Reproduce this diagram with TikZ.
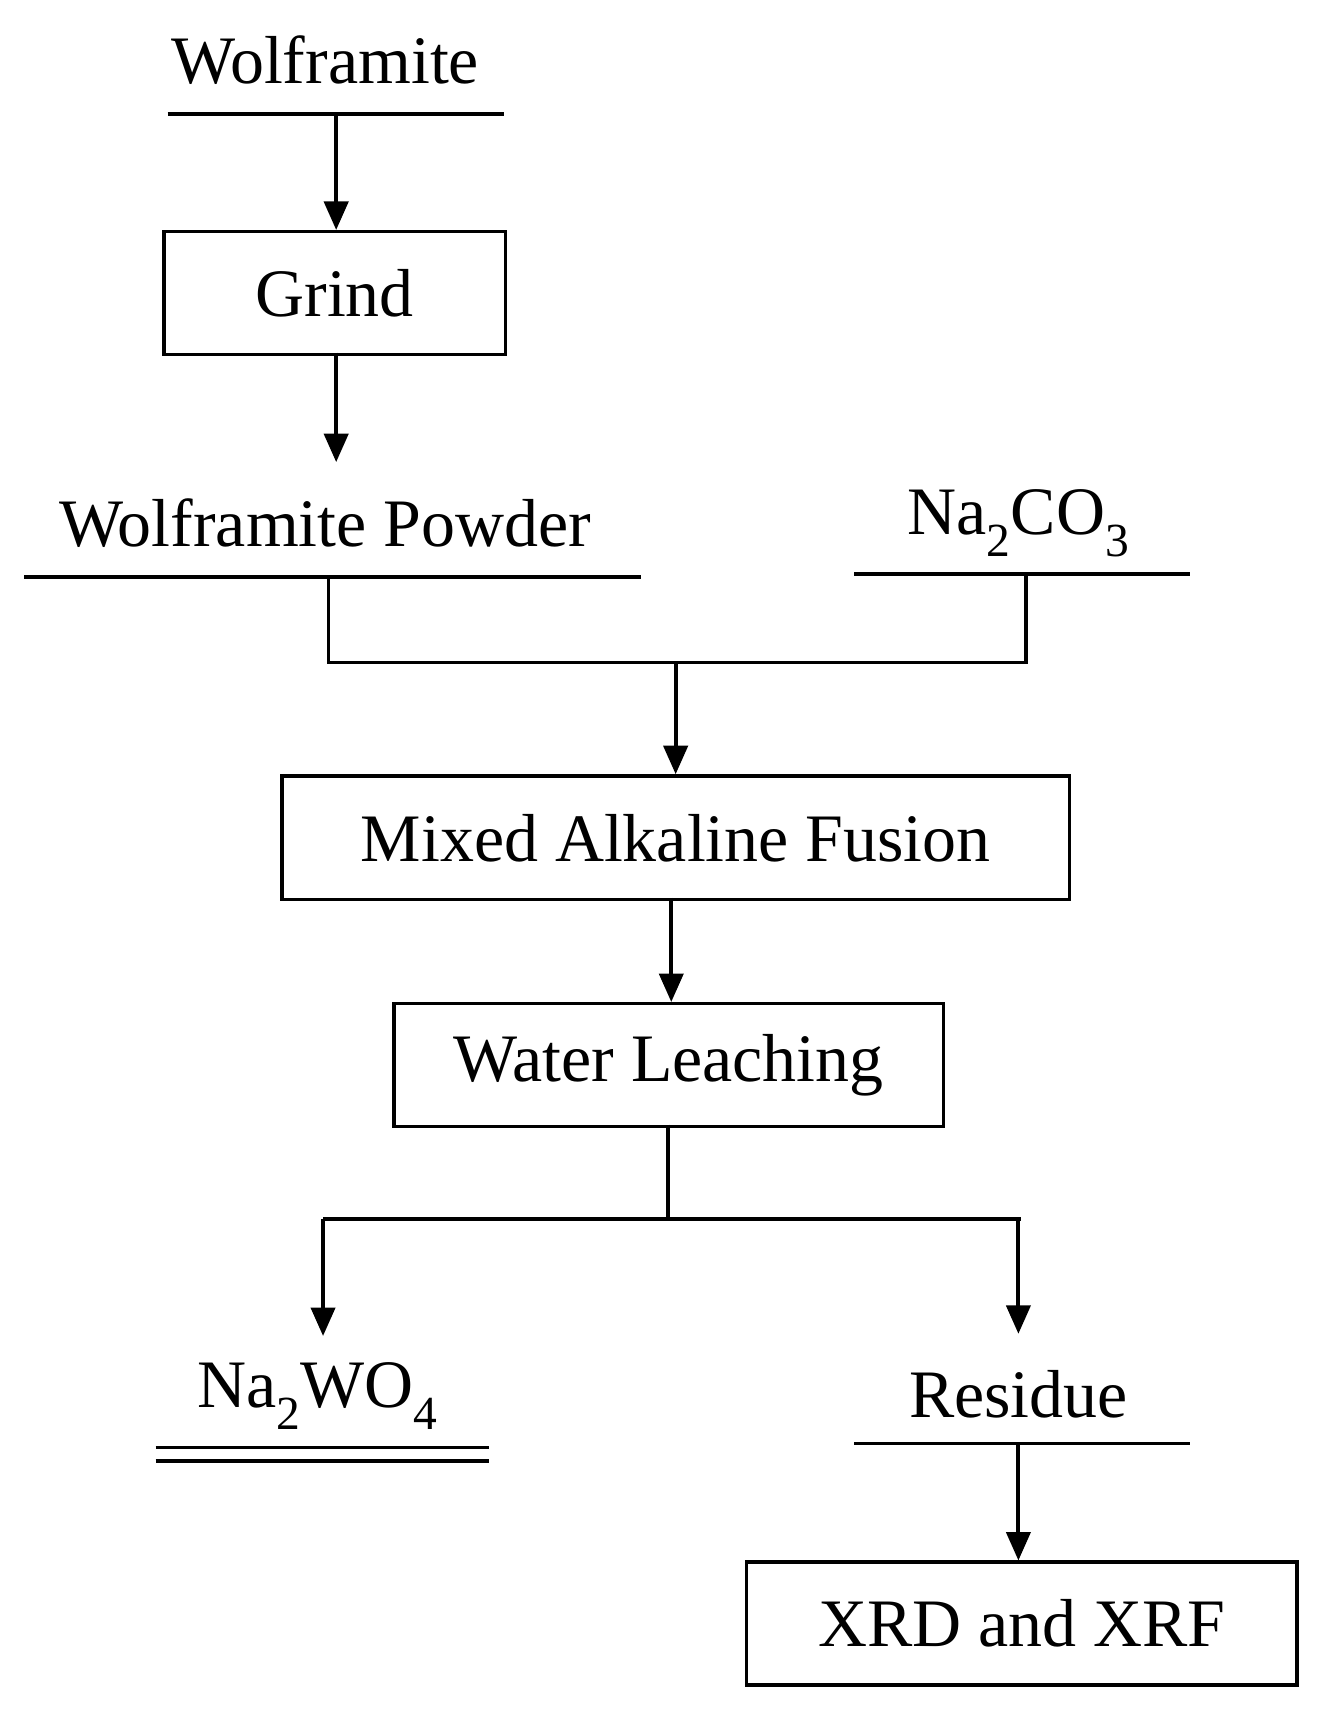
\documentclass[tikz,border=0pt]{standalone}
\usepackage{fontspec}
\setmainfont{Liberation Serif}
\usetikzlibrary{arrows.meta}
\begin{document}
\begin{tikzpicture}[x=1pt,y=-1pt,
  ln/.style={line width=3.2pt},
  ar/.style={line width=3.6pt,-{Triangle[length=26pt,width=22pt]}},
  bx/.style={draw,line width=3.2pt,inner sep=0pt,anchor=north west},
  tx/.style={font=\fontsize{62}{70}\selectfont,inner sep=0pt}]
\useasboundingbox (0,0) rectangle (1216,1578);
\node[tx] (w) at (297,55) {Wolframite};
\draw[ln] (153,104) coordinate (wl) -- (460,104) coordinate (wr);
\node[bx,minimum width=312pt,minimum height=112pt] (g) at (148,210) {};
\node[tx] at (g.center) {Grind};
\coordinate (wa) at (307,104); \coordinate (ga) at (307,210);
\draw[ar] (wa) -- (ga);
\coordinate (gb) at (307,322); \coordinate (pa) at (307,422);
\draw[ar] (gb) -- (pa);
\node[tx] (p) at (297,478) {Wolframite Powder};
\draw[ln] (22,527) -- (585,527);
\node[tx] (n) at (930,478) {Na\textsubscript{2}CO\textsubscript{3}};
\draw[ln] (780,524) -- (1087,524);
\coordinate (p1) at (300,527); \coordinate (n1) at (937,524);
\draw[ln] (p1) |- (617,605) -| (n1);
\coordinate (j) at (617,605);
\node[bx,minimum width=719pt,minimum height=113pt] (m) at (256,707) {};
\node[tx] at (m.center) {Mixed Alkaline Fusion};
\draw[ar] (j) -- (617,707);
\node[bx,minimum width=502pt,minimum height=112pt] (wl2) at (358,915) {};
\node[tx] at (wl2.center) {Water Leaching};
\coordinate (mb) at (613,820); \coordinate (wt) at (613,915);
\draw[ar] (mb) -- (wt);
\coordinate (wb) at (610,1027); \coordinate (s) at (610,1113);
\draw[ln] (wb) -- (s);
\draw[ln] (295,1113) -- (932,1113);
\coordinate (la) at (295,1113); \coordinate (ra) at (930,1113);
\draw[ar] (la) -- (295,1220);
\draw[ar] (ra) -- (930,1218);
\node[tx] (na) at (290,1275) {Na\textsubscript{2}WO\textsubscript{4}};
\draw[ln] (142,1322) -- (447,1322);
\draw[ln] (142,1334) -- (447,1334);
\node[tx] (r) at (930,1273) {Residue};
\draw[ln] (780,1318) -- (1087,1318);
\node[bx,minimum width=503pt,minimum height=112pt] (x) at (680,1425) {};
\node[tx] at (x.center) {XRD and XRF};
\coordinate (rb) at (930,1318);
\draw[ar] (rb) -- (930,1425);
\end{tikzpicture}
\end{document}
